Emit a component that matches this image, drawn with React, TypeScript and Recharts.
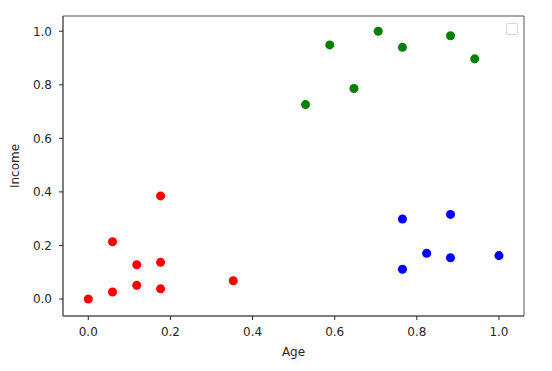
import React from "react";
import { ScatterChart, Scatter, XAxis, YAxis, ZAxis, ReferenceArea } from "recharts";

// Cluster 0 (red)
const redAge = [0.059, 0.176, 0.176, 0.118, 0.0, 0.059, 0.118, 0.176, 0.353];
const redIncome = [0.214, 0.385, 0.137, 0.128, 0.0, 0.026, 0.051, 0.038, 0.068];
// Cluster 1 (green)
const greenAge = [0.941, 0.765, 0.882, 0.706, 0.588, 0.529, 0.647];
const greenIncome = [0.897, 0.940, 0.983, 1.0, 0.949, 0.726, 0.786];
// Cluster 2 (blue)
const blueAge = [0.824, 0.882, 1.0, 0.765, 0.882, 0.765];
const blueIncome = [0.171, 0.154, 0.162, 0.299, 0.316, 0.111];

const xTicks = [0, 0.2, 0.4, 0.6, 0.8, 1.0];
const yTicks = [0, 0.2, 0.4, 0.6, 0.8, 1.0];
const xDomain = [-0.0616, 1.061];
const yDomain = [-0.0635, 1.057];

const toPoints = (xs: number[], ys: number[]) => xs.map((x, i) => ({ x, y: ys[i] }));

const redData = toPoints(redAge, redIncome);
const greenData = toPoints(greenAge, greenIncome);
const blueData = toPoints(blueAge, blueIncome);

const FONT = "DejaVu Sans";
const tickStyle = { fontSize: 12, fill: "#262626", fontFamily: FONT };
const spine = { stroke: "#555", strokeWidth: 1 };

export default function App() {
  return (
    <div style={{ position: "absolute", left: 0, top: 0, width: 552, height: 371, background: "#fff" }}>
      <ScatterChart width={552} height={371} margin={{ top: 16, right: 28, left: 0, bottom: 0 }}>
        <XAxis
          type="number"
          dataKey="x"
          domain={xDomain}
          ticks={xTicks}
          allowDataOverflow
          height={55}
          tickSize={4}
          tickMargin={7}
          tick={tickStyle}
          tickLine={{ stroke: "#262626" }}
          axisLine={spine}
          tickFormatter={(v: number) => v.toFixed(1)}
          label={{ value: "Age", position: "insideBottom", offset: 15, style: { fontSize: 12, fill: "#262626", fontFamily: FONT } }}
        />
        <YAxis
          type="number"
          dataKey="y"
          domain={yDomain}
          ticks={yTicks}
          allowDataOverflow
          width={63}
          tickSize={4}
          tickMargin={7}
          tick={tickStyle}
          tickLine={{ stroke: "#262626" }}
          axisLine={spine}
          tickFormatter={(v: number) => v.toFixed(1)}
          label={{ value: "Income", angle: -90, position: "insideLeft", offset: 15, style: { textAnchor: "middle", fontSize: 12, fill: "#262626", fontFamily: FONT } }}
        />
        <ZAxis range={[64, 64]} />
        <ReferenceArea
          x1={xDomain[0]}
          x2={xDomain[1]}
          y1={yDomain[0]}
          y2={yDomain[1]}
          fill="none"
          fillOpacity={0}
          stroke="#555"
          strokeWidth={1}
          ifOverflow="visible"
        />
        <Scatter data={redData} fill="#ff0000" isAnimationActive={false} />
        <Scatter data={greenData} fill="#008000" isAnimationActive={false} />
        <Scatter data={blueData} fill="#0000ff" isAnimationActive={false} />
      </ScatterChart>
      <div
        style={{
          position: "absolute",
          left: 506,
          top: 23,
          width: 10,
          height: 10,
          border: "1px solid #d6d6d6",
          borderRadius: 2,
          background: "#fff",
        }}
      />
    </div>
  );
}
